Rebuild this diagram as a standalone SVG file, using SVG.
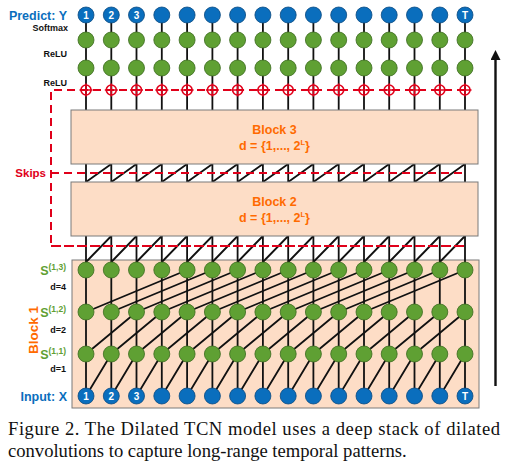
<svg xmlns="http://www.w3.org/2000/svg" xmlns:xlink="http://www.w3.org/1999/xlink" width="508" height="469" viewBox="0 0 508 469">
<style>
.lbl{font-family:"Liberation Sans",Arial,sans-serif;font-weight:bold}
.blue{fill:#0A6EBD}
.orange{fill:#FF6A00}
.green{fill:#5FA033}
.red{fill:#E0001A}
.blk{fill:#111}
.num{font-family:"Liberation Sans",Arial,sans-serif;font-weight:bold;font-size:10px;fill:#fff;text-anchor:middle}
.conn line,.conn path{stroke:#111;stroke-width:1.8;fill:none}
.skip{stroke:#E0001A;stroke-width:2;stroke-dasharray:8 5;fill:none}
.block{fill:#FDDDC6;stroke:#7a7a7a;stroke-width:1}
.cap{font-family:"Liberation Serif","Times New Roman",serif;font-size:18.6px;fill:#111}
</style>
<defs>
<circle id="bc" r="8" fill="#0A6EBD" stroke="#0B4A80" stroke-width="0.8"/>
<circle id="gc" r="8" fill="#5FA033" stroke="#3C6B20" stroke-width="0.8"/>
<g id="plus"><circle r="5" fill="none" stroke="#E0001A" stroke-width="1.6"/><path d="M-6.5 0H6.5M0 -6.5V6.5" stroke="#E0001A" stroke-width="1.6"/></g>
<marker id="ah" markerWidth="10" markerHeight="10" refX="5" refY="5" orient="auto" markerUnits="userSpaceOnUse"><path d="M0 0 L10 5 L0 10 Z" fill="#111"/></marker>
</defs>
<rect width="508" height="469" fill="#fff"/>
<rect id="block1-bg" class="block" x="72" y="260" width="407" height="148"/>
<g id="connectors" class="conn">
<path d="M86 15V396M111.3 15V396M136.5 15V396M161.8 15V396M187.1 15V396M212.4 15V396M237.6 15V396M262.9 15V396M288.2 15V396M313.4 15V396M338.7 15V396M364 15V396M389.2 15V396M414.5 15V396M439.8 15V396M465 15V396"/>
<path d="M86 182L111.3 164M111.3 182L136.5 164M136.5 182L161.8 164M161.8 182L187.1 164M187.1 182L212.4 164M212.4 182L237.6 164M237.6 182L262.9 164M262.9 182L288.2 164M288.2 182L313.4 164M313.4 182L338.7 164M338.7 182L364 164M364 182L389.2 164M389.2 182L414.5 164M414.5 182L439.8 164M439.8 182L465 164"/>
<path d="M86 262L111.3 236M111.3 262L136.5 236M136.5 262L161.8 236M161.8 262L187.1 236M187.1 262L212.4 236M212.4 262L237.6 236M237.6 262L262.9 236M262.9 262L288.2 236M288.2 262L313.4 236M313.4 262L338.7 236M338.7 262L364 236M364 262L389.2 236M389.2 262L414.5 236M414.5 262L439.8 236M439.8 262L465 236"/>
<path d="M86 396L111.3 354M111.3 396L136.5 354M136.5 396L161.8 354M161.8 396L187.1 354M187.1 396L212.4 354M212.4 396L237.6 354M237.6 396L262.9 354M262.9 396L288.2 354M288.2 396L313.4 354M313.4 396L338.7 354M338.7 396L364 354M364 396L389.2 354M389.2 396L414.5 354M414.5 396L439.8 354M439.8 396L465 354"/>
<path d="M86 354L136.5 312M111.3 354L161.8 312M136.5 354L187.1 312M161.8 354L212.4 312M187.1 354L237.6 312M212.4 354L262.9 312M237.6 354L288.2 312M262.9 354L313.4 312M288.2 354L338.7 312M313.4 354L364 312M338.7 354L389.2 312M364 354L414.5 312M389.2 354L439.8 312M414.5 354L465 312"/>
<path d="M86 312L187.1 270M111.3 312L212.4 270M136.5 312L237.6 270M161.8 312L262.9 270M187.1 312L288.2 270M212.4 312L313.4 270M237.6 312L338.7 270M262.9 312L364 270M288.2 312L389.2 270M313.4 312L414.5 270M338.7 312L439.8 270M364 312L465 270"/>
<line x1="495.5" y1="386" x2="495.5" y2="55" style="stroke-width:2.4" marker-end="url(#ah)"/>
<path class="skip" d="M465 90H51V246H465" style="stroke:#E0001A;stroke-width:2;stroke-dasharray:8 5"/>
</g>
<g id="block3">
<rect class="block" x="71" y="110" width="407" height="54"/>
<text class="lbl orange" x="274.5" y="134" font-size="12.5" text-anchor="middle">Block 3</text>
<text class="lbl orange" x="274.5" y="150" font-size="12.5" text-anchor="middle">d = {1,..., 2<tspan font-size="7.5" dy="-5">L</tspan><tspan dy="5">}</tspan></text>
</g>
<g id="block2">
<rect class="block" x="71" y="182" width="407" height="54"/>
<text class="lbl orange" x="274.5" y="206" font-size="12.5" text-anchor="middle">Block 2</text>
<text class="lbl orange" x="274.5" y="222" font-size="12.5" text-anchor="middle">d = {1,..., 2<tspan font-size="7.5" dy="-5">L</tspan><tspan dy="5">}</tspan></text>
</g>
<g id="skips-overlay">
<path class="skip" d="M51 173H465"/>
<path class="skip" d="M51 246H465"/>
</g>
<g id="row-y">
<g id="y1"><use xlink:href="#bc" x="86" y="15"/><text class="num" x="86" y="18.6">1</text></g>
<g id="y2"><use xlink:href="#bc" x="111.3" y="15"/><text class="num" x="111.3" y="18.6">2</text></g>
<g id="y3"><use xlink:href="#bc" x="136.5" y="15"/><text class="num" x="136.5" y="18.6">3</text></g>
<g id="y4"><use xlink:href="#bc" x="161.8" y="15"/></g>
<g id="y5"><use xlink:href="#bc" x="187.1" y="15"/></g>
<g id="y6"><use xlink:href="#bc" x="212.4" y="15"/></g>
<g id="y7"><use xlink:href="#bc" x="237.6" y="15"/></g>
<g id="y8"><use xlink:href="#bc" x="262.9" y="15"/></g>
<g id="y9"><use xlink:href="#bc" x="288.2" y="15"/></g>
<g id="y10"><use xlink:href="#bc" x="313.4" y="15"/></g>
<g id="y11"><use xlink:href="#bc" x="338.7" y="15"/></g>
<g id="y12"><use xlink:href="#bc" x="364" y="15"/></g>
<g id="y13"><use xlink:href="#bc" x="389.2" y="15"/></g>
<g id="y14"><use xlink:href="#bc" x="414.5" y="15"/></g>
<g id="y15"><use xlink:href="#bc" x="439.8" y="15"/></g>
<g id="yT"><use xlink:href="#bc" x="465" y="15"/><text class="num" x="465" y="18.6">T</text></g>
</g>
<g id="row-softmax">
<g id="sm1"><use xlink:href="#gc" x="86" y="40"/></g><g id="sm2"><use xlink:href="#gc" x="111.3" y="40"/></g><g id="sm3"><use xlink:href="#gc" x="136.5" y="40"/></g><g id="sm4"><use xlink:href="#gc" x="161.8" y="40"/></g><g id="sm5"><use xlink:href="#gc" x="187.1" y="40"/></g><g id="sm6"><use xlink:href="#gc" x="212.4" y="40"/></g><g id="sm7"><use xlink:href="#gc" x="237.6" y="40"/></g><g id="sm8"><use xlink:href="#gc" x="262.9" y="40"/></g><g id="sm9"><use xlink:href="#gc" x="288.2" y="40"/></g><g id="sm10"><use xlink:href="#gc" x="313.4" y="40"/></g><g id="sm11"><use xlink:href="#gc" x="338.7" y="40"/></g><g id="sm12"><use xlink:href="#gc" x="364" y="40"/></g><g id="sm13"><use xlink:href="#gc" x="389.2" y="40"/></g><g id="sm14"><use xlink:href="#gc" x="414.5" y="40"/></g><g id="sm15"><use xlink:href="#gc" x="439.8" y="40"/></g><g id="sm16"><use xlink:href="#gc" x="465" y="40"/></g>
</g>
<g id="row-relu">
<g id="r1"><use xlink:href="#gc" x="86" y="68"/></g><g id="r2"><use xlink:href="#gc" x="111.3" y="68"/></g><g id="r3"><use xlink:href="#gc" x="136.5" y="68"/></g><g id="r4"><use xlink:href="#gc" x="161.8" y="68"/></g><g id="r5"><use xlink:href="#gc" x="187.1" y="68"/></g><g id="r6"><use xlink:href="#gc" x="212.4" y="68"/></g><g id="r7"><use xlink:href="#gc" x="237.6" y="68"/></g><g id="r8"><use xlink:href="#gc" x="262.9" y="68"/></g><g id="r9"><use xlink:href="#gc" x="288.2" y="68"/></g><g id="r10"><use xlink:href="#gc" x="313.4" y="68"/></g><g id="r11"><use xlink:href="#gc" x="338.7" y="68"/></g><g id="r12"><use xlink:href="#gc" x="364" y="68"/></g><g id="r13"><use xlink:href="#gc" x="389.2" y="68"/></g><g id="r14"><use xlink:href="#gc" x="414.5" y="68"/></g><g id="r15"><use xlink:href="#gc" x="439.8" y="68"/></g><g id="r16"><use xlink:href="#gc" x="465" y="68"/></g>
</g>
<g id="row-sum">
<g id="p1"><use xlink:href="#plus" x="86" y="90"/></g><g id="p2"><use xlink:href="#plus" x="111.3" y="90"/></g><g id="p3"><use xlink:href="#plus" x="136.5" y="90"/></g><g id="p4"><use xlink:href="#plus" x="161.8" y="90"/></g><g id="p5"><use xlink:href="#plus" x="187.1" y="90"/></g><g id="p6"><use xlink:href="#plus" x="212.4" y="90"/></g><g id="p7"><use xlink:href="#plus" x="237.6" y="90"/></g><g id="p8"><use xlink:href="#plus" x="262.9" y="90"/></g><g id="p9"><use xlink:href="#plus" x="288.2" y="90"/></g><g id="p10"><use xlink:href="#plus" x="313.4" y="90"/></g><g id="p11"><use xlink:href="#plus" x="338.7" y="90"/></g><g id="p12"><use xlink:href="#plus" x="364" y="90"/></g><g id="p13"><use xlink:href="#plus" x="389.2" y="90"/></g><g id="p14"><use xlink:href="#plus" x="414.5" y="90"/></g><g id="p15"><use xlink:href="#plus" x="439.8" y="90"/></g><g id="p16"><use xlink:href="#plus" x="465" y="90"/></g>
</g>
<g id="row-s13">
<g id="a1"><use xlink:href="#gc" x="86" y="270"/></g><g id="a2"><use xlink:href="#gc" x="111.3" y="270"/></g><g id="a3"><use xlink:href="#gc" x="136.5" y="270"/></g><g id="a4"><use xlink:href="#gc" x="161.8" y="270"/></g><g id="a5"><use xlink:href="#gc" x="187.1" y="270"/></g><g id="a6"><use xlink:href="#gc" x="212.4" y="270"/></g><g id="a7"><use xlink:href="#gc" x="237.6" y="270"/></g><g id="a8"><use xlink:href="#gc" x="262.9" y="270"/></g><g id="a9"><use xlink:href="#gc" x="288.2" y="270"/></g><g id="a10"><use xlink:href="#gc" x="313.4" y="270"/></g><g id="a11"><use xlink:href="#gc" x="338.7" y="270"/></g><g id="a12"><use xlink:href="#gc" x="364" y="270"/></g><g id="a13"><use xlink:href="#gc" x="389.2" y="270"/></g><g id="a14"><use xlink:href="#gc" x="414.5" y="270"/></g><g id="a15"><use xlink:href="#gc" x="439.8" y="270"/></g><g id="a16"><use xlink:href="#gc" x="465" y="270"/></g>
</g>
<g id="row-s12">
<g id="b1"><use xlink:href="#gc" x="86" y="312"/></g><g id="b2"><use xlink:href="#gc" x="111.3" y="312"/></g><g id="b3"><use xlink:href="#gc" x="136.5" y="312"/></g><g id="b4"><use xlink:href="#gc" x="161.8" y="312"/></g><g id="b5"><use xlink:href="#gc" x="187.1" y="312"/></g><g id="b6"><use xlink:href="#gc" x="212.4" y="312"/></g><g id="b7"><use xlink:href="#gc" x="237.6" y="312"/></g><g id="b8"><use xlink:href="#gc" x="262.9" y="312"/></g><g id="b9"><use xlink:href="#gc" x="288.2" y="312"/></g><g id="b10"><use xlink:href="#gc" x="313.4" y="312"/></g><g id="b11"><use xlink:href="#gc" x="338.7" y="312"/></g><g id="b12"><use xlink:href="#gc" x="364" y="312"/></g><g id="b13"><use xlink:href="#gc" x="389.2" y="312"/></g><g id="b14"><use xlink:href="#gc" x="414.5" y="312"/></g><g id="b15"><use xlink:href="#gc" x="439.8" y="312"/></g><g id="b16"><use xlink:href="#gc" x="465" y="312"/></g>
</g>
<g id="row-s11">
<g id="c1"><use xlink:href="#gc" x="86" y="354"/></g><g id="c2"><use xlink:href="#gc" x="111.3" y="354"/></g><g id="c3"><use xlink:href="#gc" x="136.5" y="354"/></g><g id="c4"><use xlink:href="#gc" x="161.8" y="354"/></g><g id="c5"><use xlink:href="#gc" x="187.1" y="354"/></g><g id="c6"><use xlink:href="#gc" x="212.4" y="354"/></g><g id="c7"><use xlink:href="#gc" x="237.6" y="354"/></g><g id="c8"><use xlink:href="#gc" x="262.9" y="354"/></g><g id="c9"><use xlink:href="#gc" x="288.2" y="354"/></g><g id="c10"><use xlink:href="#gc" x="313.4" y="354"/></g><g id="c11"><use xlink:href="#gc" x="338.7" y="354"/></g><g id="c12"><use xlink:href="#gc" x="364" y="354"/></g><g id="c13"><use xlink:href="#gc" x="389.2" y="354"/></g><g id="c14"><use xlink:href="#gc" x="414.5" y="354"/></g><g id="c15"><use xlink:href="#gc" x="439.8" y="354"/></g><g id="c16"><use xlink:href="#gc" x="465" y="354"/></g>
</g>
<g id="row-x">
<g id="x1"><use xlink:href="#bc" x="86" y="396"/><text class="num" x="86" y="399.6">1</text></g>
<g id="x2"><use xlink:href="#bc" x="111.3" y="396"/><text class="num" x="111.3" y="399.6">2</text></g>
<g id="x3"><use xlink:href="#bc" x="136.5" y="396"/><text class="num" x="136.5" y="399.6">3</text></g>
<g id="x4"><use xlink:href="#bc" x="161.8" y="396"/></g>
<g id="x5"><use xlink:href="#bc" x="187.1" y="396"/></g>
<g id="x6"><use xlink:href="#bc" x="212.4" y="396"/></g>
<g id="x7"><use xlink:href="#bc" x="237.6" y="396"/></g>
<g id="x8"><use xlink:href="#bc" x="262.9" y="396"/></g>
<g id="x9"><use xlink:href="#bc" x="288.2" y="396"/></g>
<g id="x10"><use xlink:href="#bc" x="313.4" y="396"/></g>
<g id="x11"><use xlink:href="#bc" x="338.7" y="396"/></g>
<g id="x12"><use xlink:href="#bc" x="364" y="396"/></g>
<g id="x13"><use xlink:href="#bc" x="389.2" y="396"/></g>
<g id="x14"><use xlink:href="#bc" x="414.5" y="396"/></g>
<g id="x15"><use xlink:href="#bc" x="439.8" y="396"/></g>
<g id="xT"><use xlink:href="#bc" x="465" y="396"/><text class="num" x="465" y="399.6">T</text></g>
</g>
<g id="labels" text-anchor="end">
<text class="lbl blue" x="67" y="19.5" font-size="12.5">Predict: Y</text>
<text class="lbl blk" x="68" y="30.5" font-size="9">Softmax</text>
<text class="lbl blk" x="67" y="56.5" font-size="9">ReLU</text>
<text class="lbl blk" x="67" y="86" font-size="9">ReLU</text>
<text class="lbl red" x="46" y="177" font-size="11.5">Skips</text>
<text class="lbl green" x="66" y="275" font-size="12.5">S<tspan font-size="8.5" dy="-5">(1,3)</tspan></text>
<text class="lbl blk" x="66" y="289.5" font-size="9">d=4</text>
<text class="lbl green" x="66" y="317" font-size="12.5">S<tspan font-size="8.5" dy="-5">(1,2)</tspan></text>
<text class="lbl blk" x="66" y="332.5" font-size="9">d=2</text>
<text class="lbl green" x="66" y="359" font-size="12.5">S<tspan font-size="8.5" dy="-5">(1,1)</tspan></text>
<text class="lbl blk" x="66" y="372" font-size="9">d=1</text>
<text class="lbl blue" x="67" y="400.5" font-size="12.5">Input: X</text>
<text class="lbl orange" x="0" y="0" font-size="13.5" text-anchor="middle" transform="translate(38 330) rotate(-90)">Block 1</text>
</g>
<g id="caption">
<text class="cap" x="8" y="435" textLength="492" lengthAdjust="spacing">Figure 2. The Dilated TCN model uses a deep stack of dilated</text>
<text class="cap" x="8" y="457">convolutions to capture long-range temporal patterns.</text>
</g>
</svg>
